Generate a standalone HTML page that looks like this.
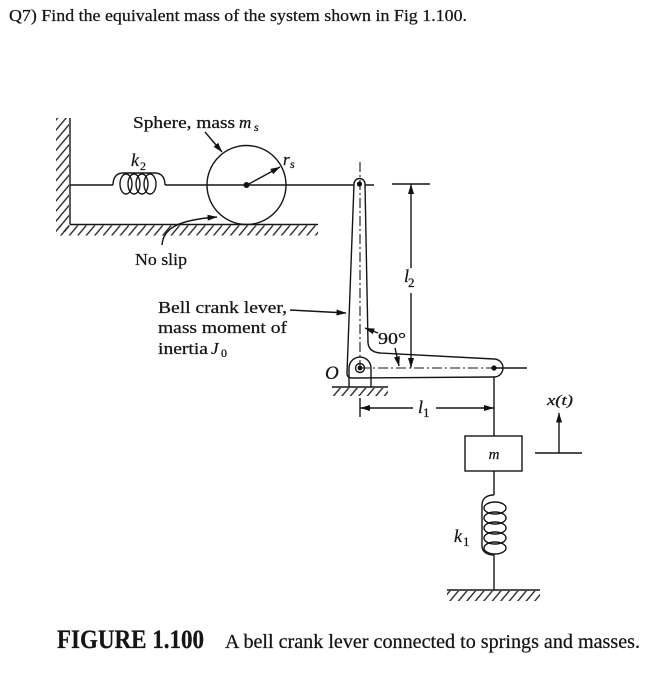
<!DOCTYPE html>
<html><head><meta charset="utf-8"><style>
html,body{margin:0;padding:0;background:#fff;}
svg{display:block;}
text{font-family:"Liberation Serif","Times New Roman",serif;fill:#151515;stroke:#151515;stroke-width:0.25;}
</style></head><body>
<svg width="661" height="681" viewBox="0 0 661 681" xmlns="http://www.w3.org/2000/svg">
<defs>
<pattern id="h" width="6.5" height="10" patternUnits="userSpaceOnUse" patternTransform="rotate(40)">
<line x1="3" y1="0" x2="3" y2="10" stroke="#1a1a1a" stroke-width="1.3"/>
</pattern>
<marker id="a" markerWidth="10" markerHeight="6" refX="9.5" refY="3" orient="auto-start-reverse" markerUnits="userSpaceOnUse">
<path d="M0,0 L10,3 L0,6 Z" fill="#111"/>
</marker>
</defs>

<text x="9" y="21" font-size="17" textLength="458" lengthAdjust="spacingAndGlyphs" fill="#2a2a3a" stroke="#2a2a3a" stroke-width="0.15">Q7) Find the equivalent mass of the system shown in Fig 1.100.</text>

<g stroke="#151515" stroke-width="1.4" fill="none">
<!-- wall and floor -->
<line x1="70" y1="118" x2="70" y2="224.5"/>
<line x1="70" y1="224.5" x2="318" y2="224.5"/>
<rect x="56" y="118" width="13" height="114" fill="url(#h)" stroke="none"/>
<rect x="60" y="225.5" width="258" height="10" fill="url(#h)" stroke="none"/>

<!-- k2 spring + line -->
<line x1="70" y1="185" x2="113" y2="185"/>
<path d="M113,185 C113,177 117,173 123,173 L155,173 C161,173 165,177 165,185"/>
<ellipse cx="126" cy="184" rx="6" ry="10"/>
<ellipse cx="134" cy="184" rx="6" ry="10"/>
<ellipse cx="142" cy="184" rx="6" ry="10"/>
<ellipse cx="150" cy="184" rx="6" ry="10"/>
<line x1="165" y1="185" x2="374" y2="185"/>

<!-- sphere -->
<circle cx="246.5" cy="185" r="39.5"/>
<line x1="247" y1="185" x2="280" y2="167" marker-end="url(#a)"/>
<line x1="205" y1="132" x2="222" y2="152" marker-end="url(#a)"/>
<path d="M162,245 C163,230 175,220 217,217" marker-end="url(#a)"/>

<!-- bell crank leader -->
<line x1="290" y1="310" x2="346" y2="313" marker-end="url(#a)"/>

<!-- lever -->
<path d="M354,184 A5.5,5.5 0 0 1 365,184 L368,343 Q369,352 380,353 L494,359 A9,9 0 0 1 494,377 L352,378 Q347,378 347,373 Z" fill="#fff"/>
<line x1="360" y1="162" x2="360" y2="368" stroke-width="1.1" stroke-dasharray="10 3 2 3"/>
<line x1="360" y1="368" x2="494" y2="368" stroke-width="1.1" stroke-dasharray="10 3 2 3"/>
<line x1="494" y1="368" x2="527" y2="368"/>
<!-- pivot bracket -->
<path d="M349,387 L349,368 A11,11 0 0 1 371,368 L371,387"/>
<circle cx="360" cy="368" r="4.5"/>
<line x1="332" y1="387" x2="388" y2="387"/>
<rect x="332" y="388" width="56" height="8" fill="url(#h)" stroke="none"/>

<!-- l2 dimension -->
<line x1="392" y1="184" x2="430" y2="184"/>
<line x1="411" y1="268" x2="411" y2="184.5" marker-end="url(#a)"/>
<line x1="411" y1="293" x2="411" y2="367.5" marker-end="url(#a)"/>

<!-- 90 deg leaders -->
<line x1="378" y1="333" x2="365" y2="328" marker-end="url(#a)"/>
<line x1="395" y1="348" x2="399" y2="366" marker-end="url(#a)"/>

<!-- l1 dimension -->
<line x1="360" y1="398" x2="360" y2="417"/>
<line x1="413" y1="408" x2="360.5" y2="408" marker-end="url(#a)"/>
<line x1="436" y1="408" x2="493.5" y2="408" marker-end="url(#a)"/>

<!-- mass and spring k1 -->
<line x1="494" y1="377" x2="494" y2="436"/>
<rect x="465" y="436" width="57" height="35"/>
<line x1="494" y1="471" x2="494" y2="495"/>
<path d="M494,495 C486,495 482,499 482,505 L482,546 C482,551 486,555 494,555"/>
<ellipse cx="495" cy="508" rx="11" ry="6"/>
<ellipse cx="495" cy="518" rx="11" ry="6"/>
<ellipse cx="495" cy="528" rx="11" ry="6"/>
<ellipse cx="495" cy="538" rx="11" ry="6"/>
<ellipse cx="495" cy="548" rx="11" ry="6"/>
<line x1="494" y1="555" x2="494" y2="590"/>
<line x1="447" y1="590" x2="540" y2="590"/>
<rect x="447" y="591" width="93" height="10" fill="url(#h)" stroke="none"/>

<!-- x(t) arrow -->
<line x1="535" y1="453" x2="582" y2="453"/>
<line x1="559" y1="453" x2="559" y2="413" marker-end="url(#a)"/>
</g>

<!-- pivot dots -->
<circle cx="246.5" cy="185" r="3" fill="#111"/>
<circle cx="359.5" cy="184" r="2.6" fill="#111"/>
<circle cx="360" cy="368" r="2.4" fill="#111"/>
<circle cx="494" cy="368" r="2.6" fill="#111"/>

<!-- labels -->
<text x="133" y="128" font-size="17" textLength="102" lengthAdjust="spacingAndGlyphs">Sphere, mass</text>
<text x="239" y="128" font-size="17" font-style="italic">m</text>
<text x="254" y="131" font-size="12" font-style="italic">s</text>

<text x="131" y="166" font-size="18" font-style="italic">k</text>
<text x="140" y="170" font-size="12">2</text>

<text x="283" y="165" font-size="17" font-style="italic">r</text>
<text x="290" y="168" font-size="12" font-style="italic">s</text>

<text x="135" y="265" font-size="17" textLength="52" lengthAdjust="spacingAndGlyphs">No slip</text>

<text x="158" y="313" font-size="17" textLength="129" lengthAdjust="spacingAndGlyphs">Bell crank lever,</text>
<text x="158" y="333" font-size="17" textLength="129" lengthAdjust="spacingAndGlyphs">mass moment of</text>
<text x="158" y="354" font-size="17" textLength="50" lengthAdjust="spacingAndGlyphs">inertia</text>
<text x="211" y="354" font-size="17" font-style="italic">J</text>
<text x="221" y="357" font-size="12">0</text>

<text x="325" y="379" font-size="19" font-style="italic">O</text>

<text x="378" y="344" font-size="17" textLength="28" lengthAdjust="spacingAndGlyphs">90°</text>

<text x="404" y="282" font-size="18" font-style="italic">l</text>
<text x="408" y="287" font-size="13">2</text>

<text x="418" y="413" font-size="18" font-style="italic">l</text>
<text x="423" y="417" font-size="13">1</text>

<text x="454" y="542" font-size="18" font-style="italic">k</text>
<text x="463" y="546" font-size="13">1</text>

<text x="494" y="459" font-size="15" font-style="italic" text-anchor="middle">m</text>

<text x="547" y="405" font-size="15" font-style="italic" textLength="26" lengthAdjust="spacingAndGlyphs">x(t)</text>

<text x="57" y="648" font-size="26" font-weight="bold" textLength="147" lengthAdjust="spacingAndGlyphs">FIGURE 1.100</text>
<text x="225" y="648" font-size="20" textLength="415" lengthAdjust="spacingAndGlyphs">A bell crank lever connected to springs and masses.</text>
</svg>
</body></html>
